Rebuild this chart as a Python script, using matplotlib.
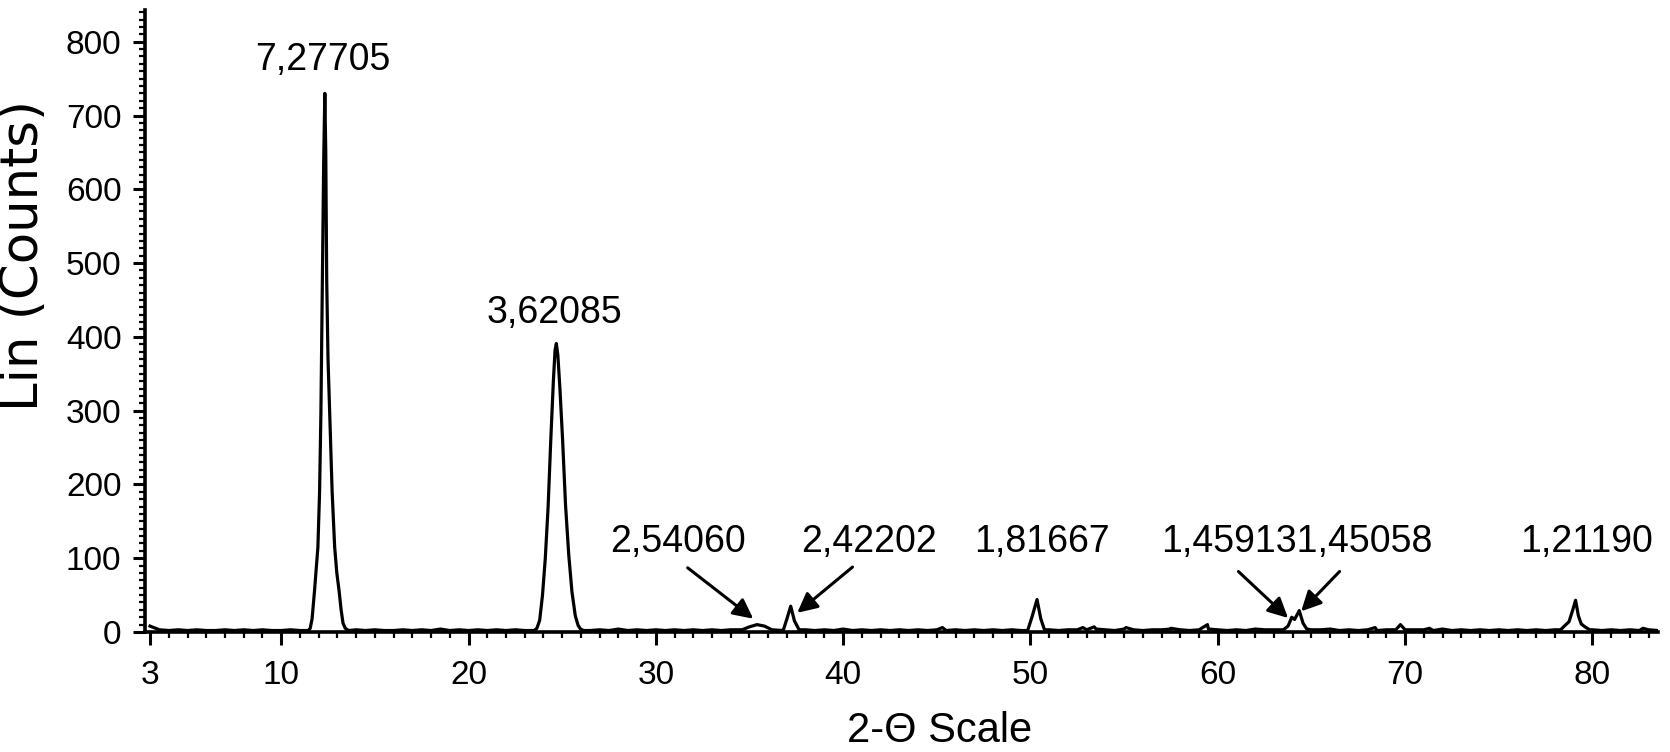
import numpy as np
import matplotlib
matplotlib.use('Agg')
import matplotlib.pyplot as plt
from matplotlib.ticker import FixedLocator, MultipleLocator

plt.rcParams['font.family'] = ['Liberation Sans', 'DejaVu Sans']

# noisy background, one reading every 0.5 deg from 3.0 to 83.5
base_start, base_step = 3.0, 0.5
base_counts = [
    8, 3, 2, 3, 2, 3, 2, 2, 3, 2, 3, 2, 3, 2, 2, 3, 2, 3, 2, 3,
    3, 2, 3, 2, 3, 2, 2, 3, 2, 3, 2, 4, 2, 3, 2, 3, 2, 3, 2, 3,
    2, 3, 2, 3, 3, 2, 3, 2, 3, 2, 4, 2, 3, 2, 3, 2, 3, 2, 3, 2,
    3, 2, 3, 2, 3, 3, 3, 3, 3, 2, 3, 2, 3, 2, 4, 2, 3, 2, 3, 2,
    3, 2, 3, 2, 3, 2, 3, 2, 3, 2, 3, 2, 3, 2, 3, 2, 3, 2, 3, 3,
    3, 4, 3, 2, 4, 3, 2, 3, 3, 4, 3, 2, 3, 4, 3, 2, 3, 2, 4, 3,
    3, 3, 3, 3, 3, 3, 4, 2, 3, 2, 3, 2, 3, 3, 3, 3, 3, 2, 4, 2,
    3, 2, 3, 2, 3, 2, 3, 2, 3, 2, 3, 2, 3, 2, 3, 2, 3, 2, 3, 2,
    3, 2,
]

# small bumps in the background
bump_theta = [45.3, 52.8, 53.4, 55.1, 57.5, 59.45, 68.4, 69.75, 71.3, 82.7]
bump_counts = [6, 6, 7, 6, 5, 10, 6, 10, 5, 5]

# reflection profiles (2-theta, counts)
peak_theta = [
    11.45, 11.55, 11.65, 11.78, 11.96, 12.05, 12.12, 12.2, 12.27, 12.33, 12.38, 12.43, 12.5, 12.59,
    12.72, 12.855, 12.97, 13.09, 13.2, 13.3, 13.42, 13.6,
    23.5, 23.65, 23.8, 23.95, 24.1, 24.25, 24.4, 24.53, 24.62, 24.69, 24.77, 24.88, 25.02, 25.18,
    25.35, 25.52, 25.7, 25.85, 25.98, 26.15,
    34.6, 35.0, 35.4, 35.8, 36.2,
    36.8, 37.0, 37.2, 37.4, 37.65,
    49.85, 50.1, 50.35, 50.55, 50.75,
    63.5, 63.75, 63.95, 64.1, 64.35, 64.55, 64.75,
    78.3, 78.5, 78.75, 78.95, 79.1, 79.25, 79.4, 79.6, 79.85,
]
peak_counts = [
    2, 5, 18, 56, 115, 190, 296, 477, 640, 730, 650, 477, 370, 296,
    190, 115, 80, 56, 30, 12, 5, 2,
    2, 5, 16, 50, 100, 170, 265, 340, 382, 391, 375, 330, 262, 172,
    105, 55, 22, 9, 4, 2,
    3, 7, 10, 8, 3,
    2, 18, 35, 15, 3,
    2, 22, 44, 18, 3,
    3, 8, 20, 17, 29, 12, 4,
    3, 8, 14, 30, 43, 22, 11, 7, 3,
]
peak_ranges = [(11.4, 13.7), (23.4, 26.2), (34.5, 37.8), (49.8, 50.8), (63.4, 64.8), (78.2, 79.9)]

# d-spacing labels: text, text position, arrows (tail -> head)
labels = ['7,27705', '3,62085', '2,54060', '2,42202', '1,81667', '1,459131,45058', '1,21190']
label_x = [12.2, 24.6, 31.2, 41.4, 50.6, 64.2, 79.7]
label_y = [775, 432, 122, 122, 122, 122, 122]
arrow_from = [(31.7, 87), (40.5, 88), (61.1, 82), (66.5, 82)]
arrow_to = [(35.2, 18), (37.55, 26), (63.75, 19), (64.45, 28)]

# assemble trace
base_theta = base_start + base_step * np.arange(len(base_counts))
pts = []
for t, c in zip(base_theta, base_counts):
    if not any(lo <= t <= hi for lo, hi in peak_ranges):
        pts.append((t, c))
pts += list(zip(bump_theta, bump_counts))
pts += list(zip(peak_theta, peak_counts))
pts.sort()
tt = [p[0] for p in pts]
cc = [p[1] for p in pts]

fig = plt.figure(figsize=(16.7, 7.52), dpi=100)
ax = fig.add_axes([145 / 1670, 120 / 752, (1658 - 145) / 1670, (742 - 120) / 752])

ax.plot(tt, cc, color='black', lw=2.3, solid_joinstyle='round')

ax.set_xlim(2.73, 83.5)
ax.set_ylim(0, 843)

for side in ['top', 'right']:
    ax.spines[side].set_visible(False)
for side in ['left', 'bottom']:
    ax.spines[side].set_linewidth(2.6)

ax.xaxis.set_major_locator(FixedLocator([3, 10, 20, 30, 40, 50, 60, 70, 80]))
ax.xaxis.set_minor_locator(MultipleLocator(1))
ax.yaxis.set_major_locator(MultipleLocator(100))
ax.yaxis.set_minor_locator(MultipleLocator(10))
ax.tick_params(axis='both', which='major', direction='out', length=9, width=2.2, labelsize=24)
ax.tick_params(axis='both', which='minor', direction='out', length=4.5, width=1.6)
ax.tick_params(axis='x', which='major', pad=11)
ax.tick_params(axis='y', which='major', pad=8)

ax.set_xlabel('2-\u0398 Scale', fontsize=30)
ax.xaxis.label.set_va('baseline')
ax.xaxis.set_label_coords(0.5254, -0.1768)
ax.set_ylabel('Lin (Counts)', fontsize=37, family=['DejaVu Sans'])
ax.yaxis.set_label_coords(-0.0635, 0.605)

for txt, x, y in zip(labels, label_x, label_y):
    ax.text(x, y, txt, fontsize=27, ha='center', va='center')

for (x0, y0), (x1, y1) in zip(arrow_from, arrow_to):
    ax.annotate('', xy=(x1, y1), xytext=(x0, y0),
                arrowprops=dict(arrowstyle='-|>', color='black', lw=2.2, mutation_scale=30,
                                shrinkA=0, shrinkB=0))

fig.savefig('out.png', dpi=100)
